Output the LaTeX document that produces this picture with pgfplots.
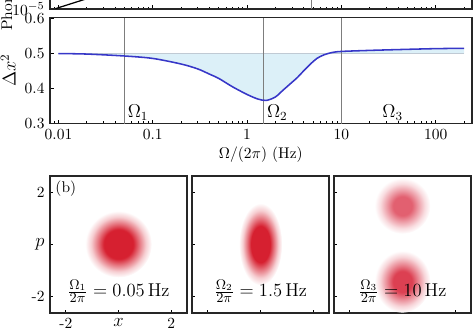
\documentclass[border=0pt]{standalone}
\usepackage{pgfplots}
\usepackage{pgfplotstable}
\pgfplotsset{compat=1.18}
\definecolor{curveblue}{RGB}{55,55,200}
\definecolor{fillblue}{RGB}{220,240,248}
\definecolor{hline}{RGB}{192,202,212}
\definecolor{vline}{RGB}{125,125,125}
\definecolor{bred}{RGB}{214,32,48}
\definecolor{bpink}{RGB}{226,96,112}
\definecolor{bmid}{RGB}{220,64,82}
\colorlet{bredB}{bred!62!white}
\colorlet{bredC}{bred!22!white}
\colorlet{bpinkB}{bpink!62!white}
\colorlet{bpinkC}{bpink!22!white}
\colorlet{bmidB}{bmid!62!white}
\colorlet{bmidC}{bmid!22!white}
\pgfdeclareradialshading{shA}{\pgfpoint{0bp}{0bp}}{color(0bp)=(bred); color(11bp)=(bred); color(15.5bp)=(bredB); color(20.5bp)=(bredC); color(25bp)=(white); color(50bp)=(white)}
\pgfdeclareradialshading{shB}{\pgfpoint{0bp}{0bp}}{color(0bp)=(bpink); color(8.5bp)=(bpink); color(14bp)=(bpinkB); color(20bp)=(bpinkC); color(25bp)=(white); color(50bp)=(white)}
\pgfdeclareradialshading{shC}{\pgfpoint{0bp}{0bp}}{color(0bp)=(bmid); color(8.5bp)=(bmid); color(14bp)=(bmidB); color(20bp)=(bmidC); color(25bp)=(white); color(50bp)=(white)}
\pgfdeclareplotmark{blobA}{\pgfpathcircle{\pgfpointorigin}{21.5pt}\pgfshadepath{shA}{0}\pgfusepath{discard}}
\pgfdeclareplotmark{blobE}{\pgfpathellipse{\pgfpointorigin}{\pgfqpoint{14pt}{0pt}}{\pgfqpoint{0pt}{26.5pt}}\pgfshadepath{shA}{0}\pgfusepath{discard}}
\pgfdeclareplotmark{blobU}{\pgfpathcircle{\pgfpointorigin}{18pt}\pgfshadepath{shB}{0}\pgfusepath{discard}}
\pgfdeclareplotmark{blobL}{\pgfpathellipse{\pgfpointorigin}{\pgfqpoint{18pt}{0pt}}{\pgfqpoint{0pt}{20pt}}\pgfshadepath{shC}{0}\pgfusepath{discard}}

\pgfplotstableread{
f dx
0.01 0.500
0.02 0.4985
0.05 0.493
0.1 0.486
0.2 0.470
0.3 0.456
0.4 0.441
0.5 0.429
0.7 0.405
1.0 0.383
1.3 0.370
1.6 0.366
2.0 0.376
2.4 0.395
3.0 0.418
3.4 0.431
4.0 0.451
4.7 0.470
5.5 0.486
6.5 0.496
8.0 0.503
10 0.506
20 0.509
50 0.512
100 0.514
200 0.515
}\curvedata

\pgfplotstableread{
f dx
0.01 0.500
0.02 0.4985
0.05 0.493
0.1 0.486
0.2 0.470
0.3 0.456
0.4 0.441
0.5 0.429
0.7 0.405
1.0 0.383
1.3 0.370
1.6 0.366
2.0 0.376
2.4 0.395
3.0 0.418
3.4 0.431
4.0 0.451
4.7 0.470
5.5 0.486
6.5 0.496
8.0 0.503
10 0.506
20 0.509
50 0.512
100 0.514
200 0.515
200 0.500
0.01 0.500
}\filldata

\pgfplotsset{
  panel/.style={scale only axis, width=88.43pt, height=88.43pt, anchor=north west,
    xmin=-2.6, xmax=2.6, ymin=-2.65, ymax=2.65,
    xtick={-2,0,2}, ytick={-2,0,2}, tick pos=left, tick align=inside,
    major tick length=2pt, every tick/.style={black, line width=0.5pt},
    axis line style={line width=1.1pt, black!85}}
}
\tikzset{ann/.style={font=\fontsize{11.5}{13}\selectfont},
  pann/.style={font=\fontsize{12.3}{14}\selectfont}}

\begin{document}
\begin{tikzpicture}

% upper (cropped) panel
\begin{axis}[at={(32.28pt,-6.0pt)}, anchor=south west, scale only axis,
  width=272.2pt, height=100pt, xmode=log, ymode=log,
  xmin=0.00813, xmax=240.9, ymin=1e-5, ymax=1,
  xtick={0.01,0.1,1,10,100}, xticklabels={},
  minor xtick={0.009,0.02,0.03,0.04,0.05,0.06,0.07,0.08,0.09,0.2,0.3,0.4,0.5,0.6,0.7,0.8,0.9,2,3,4,5,6,7,8,9,20,30,40,50,60,70,80,90,200},
  ytick={1e-5}, yticklabels={$10^{-5}$},
  tick pos=left, tick align=inside, major tick length=2.5pt, minor tick length=1.4pt,
  every tick/.style={black, line width=0.5pt},
  axis line style={line width=1.1pt, black!85}]
\addplot[black, line width=0.8pt] coordinates {(0.0093,1.05e-5) (0.02,2.2e-5) (0.05,6e-5)};
\addplot[vline, line width=0.6pt] coordinates {(4.8,1e-5) (4.8,1)};
\end{axis}
\node[rotate=90, anchor=base west, inner sep=0pt] at (7.8pt,-20pt) {Phonon number};

% middle panel
\begin{axis}[at={(32.28pt,-79.72pt)}, anchor=south west, scale only axis,
  width=272.2pt, height=68.42pt, xmode=log,
  xmin=0.00813, xmax=240.9, ymin=0.3, ymax=0.603,
  xtick={0.01,0.1,1,10,100}, xticklabels={0.01,0.1,1,10,100},
  minor xtick={0.009,0.02,0.03,0.04,0.05,0.06,0.07,0.08,0.09,0.2,0.3,0.4,0.5,0.6,0.7,0.8,0.9,2,3,4,5,6,7,8,9,20,30,40,50,60,70,80,90,200},
  ytick={0.3,0.4,0.5,0.6}, yticklabels={0.3,0.4,0.5,0.6},
  tick pos=left, tick align=inside, major tick length=2.5pt, minor tick length=1.4pt,
  every tick/.style={black, line width=0.5pt},
  axis line style={line width=1.1pt, black!85},
  xlabel={$\Omega/(2\pi)$ (Hz)},
  ylabel={\fontsize{12}{14}\selectfont$\Delta x^2$},
  xlabel style={yshift=2pt}, ylabel style={yshift=-1pt}]
\addplot[fill=fillblue, draw=none] table[x=f, y=dx] {\filldata};
\addplot[hline, line width=1.2pt] coordinates {(0.01,0.5) (200,0.5)};
\addplot[vline, line width=0.6pt] coordinates {(0.05,0.3) (0.05,0.603)};
\addplot[vline, line width=0.6pt] coordinates {(1.5,0.3) (1.5,0.603)};
\addplot[vline, line width=0.6pt] coordinates {(10,0.3) (10,0.603)};
\addplot[curveblue, line width=1pt, smooth] table[x=f, y=dx] {\curvedata};
\node[ann, anchor=south west, inner sep=2pt] at (axis cs:0.05,0.3) {$\Omega_1$};
\node[ann, anchor=south west, inner sep=2pt] at (axis cs:1.5,0.3) {$\Omega_2$};
\node[ann, anchor=south, inner sep=2pt] at (axis cs:35,0.3) {$\Omega_3$};
\end{axis}

% bottom panels
\begin{axis}[panel, name=p1, at={(32.28pt,-113.42pt)},
  xticklabels={-2,{\large$x$},2}, yticklabels={-2,{\large$p$},2}]
\addplot[only marks, mark=blobA] coordinates {(0,0)};
\node[anchor=north west] at (rel axis cs:0,1) {(b)};
\end{axis}

\begin{axis}[panel, name=p2, at={(123.94pt,-113.42pt)}, xticklabels={}, yticklabels={}]
\addplot[only marks, mark=blobE] coordinates {(0,0)};
\end{axis}

\begin{axis}[panel, name=p3, at={(215.6pt,-113.42pt)}, xticklabels={}, yticklabels={}]
\addplot[only marks, mark=blobU] coordinates {(0,1.48)};
\addplot[only marks, mark=blobL] coordinates {(0,-1.45)};
\end{axis}

\node[pann] at ([yshift=13.8pt]p1.south) {$\frac{\Omega_1}{2\pi}=0.05\,\mathrm{Hz}$};
\node[pann] at ([yshift=13.8pt]p2.south) {$\frac{\Omega_2}{2\pi}=1.5\,\mathrm{Hz}$};
\node[pann] at ([yshift=13.8pt]p3.south) {$\frac{\Omega_3}{2\pi}=10\,\mathrm{Hz}$};

\pgfresetboundingbox
\useasboundingbox (0pt,0pt) rectangle (305.97pt,-214.3pt);
\end{tikzpicture}
\end{document}
